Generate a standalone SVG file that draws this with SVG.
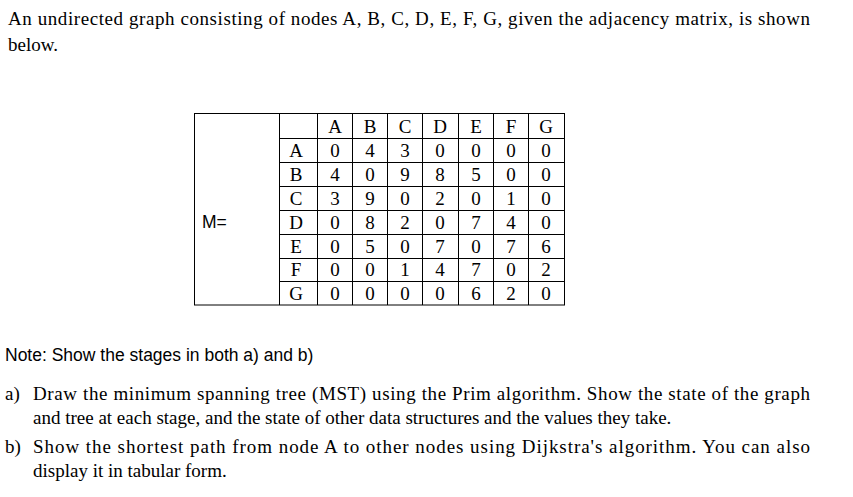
<svg xmlns="http://www.w3.org/2000/svg" width="853" height="497" viewBox="0 0 853 497">
<style>
text{font-family:"Liberation Serif","Times New Roman",serif;font-size:19px;fill:#000}
.s{font-family:"Liberation Sans",Arial,sans-serif;font-size:17.5px}
.c{text-anchor:middle}
line{stroke:#000;stroke-width:1}
</style>
<rect width="853" height="497" fill="#fff"/>
<text x="8" y="25" textLength="802" lengthAdjust="spacing">An undirected graph consisting of nodes A, B, C, D, E, F, G, given the adjacency matrix, is shown</text>
<text x="8" y="51">below.</text>
<g id="matrix">
<rect x="194.5" y="113.5" width="370" height="191.5" fill="none" stroke="#000"/>
<line x1="279.5" y1="113" x2="279.5" y2="305"/>
<g id="vlines">
<line x1="317.5" y1="113" x2="317.5" y2="305"/><line x1="352.5" y1="113" x2="352.5" y2="305"/><line x1="387.5" y1="113" x2="387.5" y2="305"/><line x1="422.5" y1="113" x2="422.5" y2="305"/><line x1="458.5" y1="113" x2="458.5" y2="305"/><line x1="493.5" y1="113" x2="493.5" y2="305"/><line x1="528.5" y1="113" x2="528.5" y2="305"/>
</g>
<g id="hlines">
<line x1="279" y1="138.5" x2="565" y2="138.5"/><line x1="279" y1="162.5" x2="565" y2="162.5"/><line x1="279" y1="186.5" x2="565" y2="186.5"/><line x1="279" y1="210.5" x2="565" y2="210.5"/><line x1="279" y1="234.5" x2="565" y2="234.5"/><line x1="279" y1="258.5" x2="565" y2="258.5"/><line x1="279" y1="281.5" x2="565" y2="281.5"/>
</g>
<text x="202" y="228" class="s">M=</text>
<g class="c">
<text x="335" y="133" class="c">A</text><text x="370" y="133" class="c">B</text><text x="405" y="133" class="c">C</text><text x="440" y="133" class="c">D</text><text x="476" y="133" class="c">E</text><text x="511" y="133" class="c">F</text><text x="546" y="133" class="c">G</text>
<text x="296" y="157" class="c">A</text><text x="335" y="157" class="c">0</text><text x="370" y="157" class="c">4</text><text x="405" y="157" class="c">3</text><text x="440" y="157" class="c">0</text><text x="476" y="157" class="c">0</text><text x="511" y="157" class="c">0</text><text x="546" y="157" class="c">0</text>
<text x="296" y="181" class="c">B</text><text x="335" y="181" class="c">4</text><text x="370" y="181" class="c">0</text><text x="405" y="181" class="c">9</text><text x="440" y="181" class="c">8</text><text x="476" y="181" class="c">5</text><text x="511" y="181" class="c">0</text><text x="546" y="181" class="c">0</text>
<text x="296" y="205" class="c">C</text><text x="335" y="205" class="c">3</text><text x="370" y="205" class="c">9</text><text x="405" y="205" class="c">0</text><text x="440" y="205" class="c">2</text><text x="476" y="205" class="c">0</text><text x="511" y="205" class="c">1</text><text x="546" y="205" class="c">0</text>
<text x="296" y="229" class="c">D</text><text x="335" y="229" class="c">0</text><text x="370" y="229" class="c">8</text><text x="405" y="229" class="c">2</text><text x="440" y="229" class="c">0</text><text x="476" y="229" class="c">7</text><text x="511" y="229" class="c">4</text><text x="546" y="229" class="c">0</text>
<text x="296" y="253" class="c">E</text><text x="335" y="253" class="c">0</text><text x="370" y="253" class="c">5</text><text x="405" y="253" class="c">0</text><text x="440" y="253" class="c">7</text><text x="476" y="253" class="c">0</text><text x="511" y="253" class="c">7</text><text x="546" y="253" class="c">6</text>
<text x="296" y="276" class="c">F</text><text x="335" y="276" class="c">0</text><text x="370" y="276" class="c">0</text><text x="405" y="276" class="c">1</text><text x="440" y="276" class="c">4</text><text x="476" y="276" class="c">7</text><text x="511" y="276" class="c">0</text><text x="546" y="276" class="c">2</text>
<text x="296" y="300" class="c">G</text><text x="335" y="300" class="c">0</text><text x="370" y="300" class="c">0</text><text x="405" y="300" class="c">0</text><text x="440" y="300" class="c">0</text><text x="476" y="300" class="c">6</text><text x="511" y="300" class="c">2</text><text x="546" y="300" class="c">0</text>
</g>
</g>
<text x="5" y="361" class="s">Note: Show the stages in both a) and b)</text>
<text x="5" y="400">a)</text>
<text x="33" y="400" textLength="777" lengthAdjust="spacing">Draw the minimum spanning tree (MST) using the Prim algorithm. Show the state of the graph</text>
<text x="33" y="424">and tree at each stage, and the state of other data structures and the values they take.</text>
<text x="5" y="453">b)</text>
<text x="33" y="453" textLength="777" lengthAdjust="spacing">Show the shortest path from node A to other nodes using Dijkstra's algorithm. You can also</text>
<text x="33" y="477">display it in tabular form.</text>
</svg>
